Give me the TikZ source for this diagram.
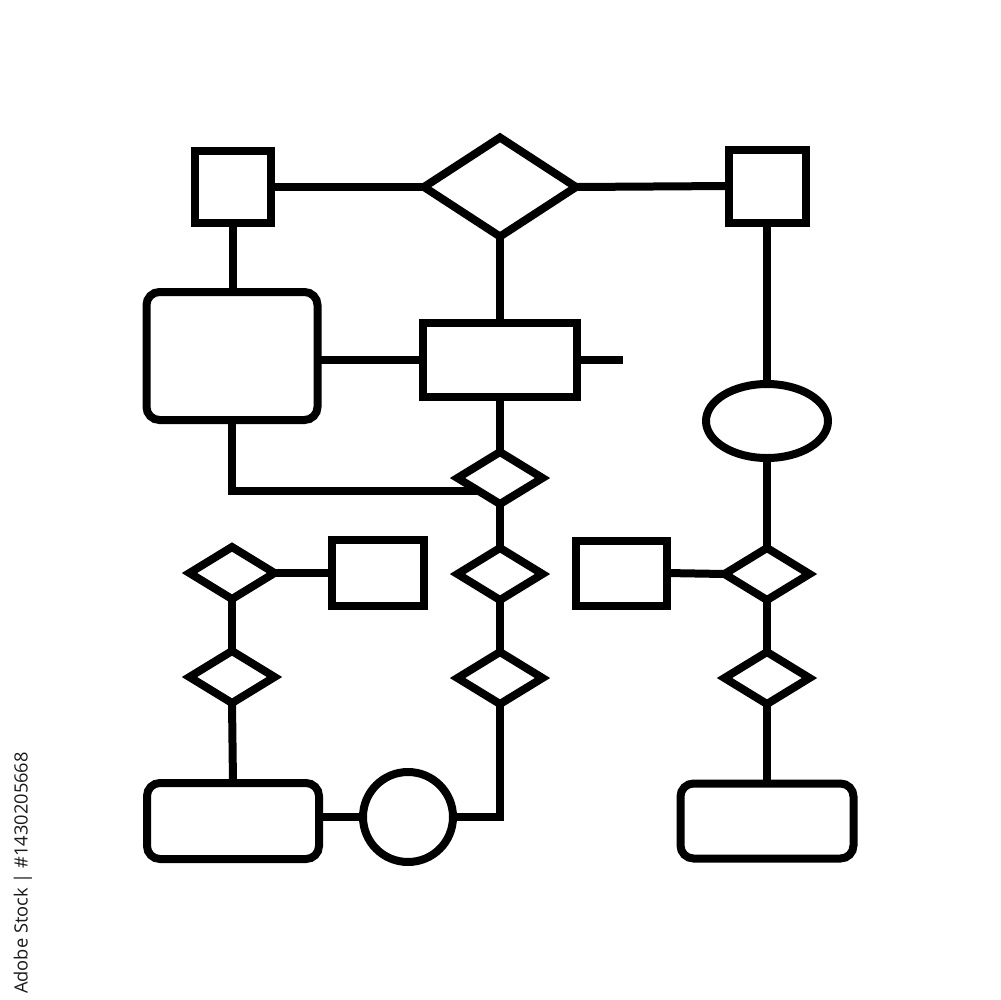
\documentclass[tikz,border=0pt]{standalone}
\usepackage{fontspec}
\setsansfont{Open Sans}
\usetikzlibrary{shapes.geometric}
\begin{document}
\begin{tikzpicture}[x=0.1mm,y=-0.1mm,
  every path/.style={line width=0.8mm},
  base/.style={draw=black,line width=0.8mm,inner sep=0pt,outer sep=0pt},
  rbox/.style={base,rectangle,rounded corners=1.3mm},
  dia/.style={base,diamond,minimum width=8.5mm,minimum height=5.2mm},
  conn/.style={draw=black,line width=0.8mm}]
\useasboundingbox (0,0) rectangle (1000,1000);
% top row
\node[base,minimum width=7.6mm,minimum height=7.2mm] (sq1) at (233,187) {};
\node[base,diamond,minimum width=15.2mm,minimum height=9.9mm] (dtop) at (500,187) {};
\node[base,minimum width=7.7mm,minimum height=7.3mm] (sq3) at (767,186) {};
% second row
\node[rbox,minimum width=17.1mm,minimum height=12.8mm] (big) at (232,356) {};
\node[base,minimum width=15.4mm,minimum height=7.4mm] (mid) at (500,360) {};
\coordinate (stub) at (623,360);
\node[base,ellipse,minimum width=12.2mm,minimum height=7.4mm] (ell) at (767,421) {};
% middle column diamonds
\node[dia] (d7) at (500,478) {};
\node[dia] (d8) at (500,574) {};
\node[dia] (d9) at (500,678) {};
% left column
\node[dia] (dl1) at (232,573) {};
\node[dia] (dl2) at (232,677) {};
\node[base,minimum width=9.2mm,minimum height=6.6mm] (r13) at (378,573) {};
\node[rbox,minimum width=17.2mm,minimum height=7.6mm] (lb) at (233,821) {};
\node[base,circle,minimum size=9.0mm] (circ) at (408,817) {};
% right column
\node[base,minimum width=9.1mm,minimum height=6.5mm] (r14) at (621,573) {};
\node[dia] (dr1) at (767,574) {};
\node[dia] (dr2) at (767,678) {};
\node[rbox,minimum width=17.3mm,minimum height=7.5mm] (rb) at (767,821) {};
% connectors
\draw[conn] (sq1.east) -- (dtop.west);
\draw[conn] (dtop.east) -- (sq3.west);
\draw[conn] (sq1.south) -- (sq1.south |- big.north);
\draw[conn] (dtop.south) -- (mid.north);
\draw[conn] (mid.west -| big.east) -- (mid.west);
\draw[conn] (mid.east) -- (stub);
\draw[conn] (sq3.south) -- (ell.north);
\draw[conn] (mid.south) -- (d7.north);
\draw[conn] (big.south) |- (d7.south west);
\draw[conn] (d7.south) -- (d8.north);
\draw[conn] (d8.south) -- (d9.north);
\draw[conn] (d9.south) |- (circ.east);
\draw[conn] (circ.west -| lb.east) -- (circ.west);
\draw[conn] (dl1.east) -- (dl1.east -| r13.west);
\draw[conn] (dl1.south) -- (dl2.north);
\draw[conn] (dl2.south) -- (lb.north);
\draw[conn] (r14.east) -- (dr1.west);
\draw[conn] (ell.south) -- (dr1.north);
\draw[conn] (dr1.south) -- (dr2.north);
\draw[conn] (dr2.south) -- (rb.north);
% stock label
\node[rotate=90,inner sep=0pt,text=black!90,font=\sffamily\fontsize{5.2}{6}\selectfont] (wm) at (23,873) {Adobe Stock | \#1430205668};
\end{tikzpicture}
\end{document}
